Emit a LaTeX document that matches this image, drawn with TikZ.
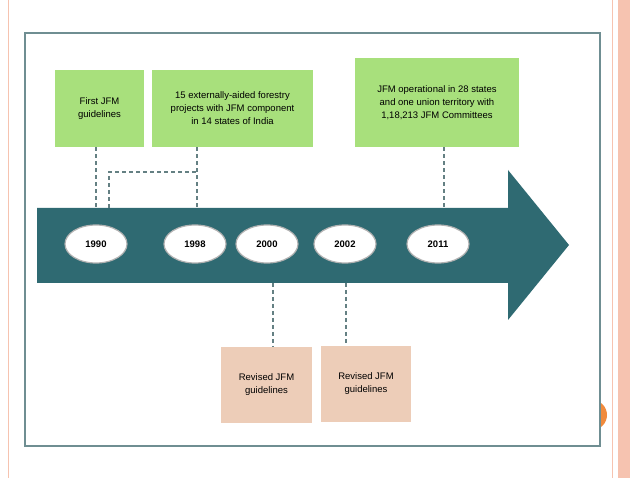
\documentclass[tikz,border=0pt]{standalone}
\usepackage{fontspec}
\setmainfont{Liberation Sans}
\usetikzlibrary{shapes.geometric}
\definecolor{teal1}{HTML}{2F6A72}
\definecolor{green1}{HTML}{A8E07C}
\definecolor{tan1}{HTML}{EDCDB8}
\definecolor{salmon}{HTML}{F6C3B0}
\definecolor{orng}{HTML}{F08A3C}
\definecolor{frame}{HTML}{6F8E92}
\tikzset{
  box/.style={fill=green1, align=center, font=\fontsize{9.5}{13}\selectfont, inner sep=0pt},
  tbox/.style={fill=tan1, align=center, font=\fontsize{9.5}{13}\selectfont, inner sep=0pt},
  yr/.style={ellipse, fill=white, draw=gray!60, line width=1.2pt, minimum width=62pt, minimum height=38pt, inner sep=0pt, font=\bfseries\fontsize{9.5}{11}\selectfont},
  dl/.style={dashed, draw=frame!90!black, line width=1.5pt, dash pattern=on 4pt off 3pt}
}
\begin{document}
\begin{tikzpicture}[x=1pt,y=-1pt]
\useasboundingbox (0,0) rectangle (638,478);
\fill[white] (0,0) rectangle (638,478);
\draw[salmon, line width=1pt] (8,0) -- (8,478);
\draw[salmon, line width=1pt] (612,0) -- (612,478);
\fill[salmon] (618,0) rectangle (630,478);
\fill[orng] (592,415) circle (15);
\draw[frame, fill=white, line width=1.2pt] (25,33) rectangle (600,446);
% arrow
\fill[teal1] (37,208) -- (508,208) -- (508,170) -- (569,245) -- (508,320) -- (508,283) -- (37,283) -- cycle;
\node[yr] (y1990) at (96,244) {1990};
\node[yr] (y1998) at (195,244) {1998};
\node[yr] (y2000) at (267,244) {2000};
\node[yr] (y2002) at (345,244) {2002};
\node[yr] (y2011) at (438,244) {2011};
\node[box, minimum width=89pt, minimum height=77pt] (b1) at (99.5,108.5) {First JFM\\guidelines};
\node[box, minimum width=161pt, minimum height=77pt] (b2) at (232.5,108.5) {15 externally-aided forestry\\projects with JFM component\\in 14 states of India};
\node[box, minimum width=164pt, minimum height=89pt] (b3) at (437,102.5) {JFM operational in 28 states\\and one union territory with\\1,18,213 JFM Committees};
\node[tbox, minimum width=91pt, minimum height=76pt] (b4) at (266.5,385) {Revised JFM\\guidelines};
\node[tbox, minimum width=90pt, minimum height=76pt] (b5) at (366,384) {Revised JFM\\guidelines};
\coordinate (c1) at (96,208);
\coordinate (c2) at (197,208);
\coordinate (c3) at (109,208);
\coordinate (c4) at (444,208);
\coordinate (c5) at (273,283);
\coordinate (c6) at (346,283);
\draw[dl] (b1.south -| c1) -- (c1);
\draw[dl] (b2.south -| c2) -- (c2);
\draw[dl] (c3) -- (109,172) -- (197,172);
\draw[dl] (b3.south -| c4) -- (c4);
\draw[dl] (c5) -- (b4.north -| c5);
\draw[dl] (c6) -- (b5.north -| c6);
\end{tikzpicture}
\end{document}
